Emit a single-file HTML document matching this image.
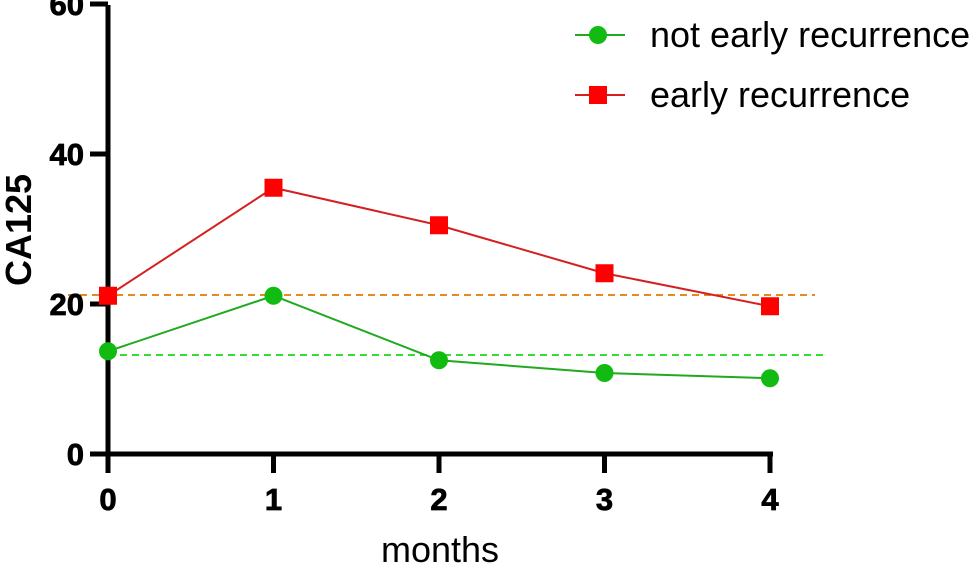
<!DOCTYPE html>
<html><head><meta charset="utf-8"><style>
body{margin:0;background:#fff}
svg{display:block;font-family:"Liberation Sans",Arial,sans-serif}
</style></head><body>
<svg id="c" width="975" height="568"></svg>
<script>
const months=[0,1,2,3,4];
const xTicks=["0","1","2","3","4"];
const yTicks=[0,20,40,60];
const notEarly=[13.7,21.1,12.5,10.8,10.1];
const early=[21.1,35.5,30.5,24.1,19.7];
const refEarly=21.2;
const refNotEarly=13.2;
const NS="http://www.w3.org/2000/svg";
const svg=document.getElementById('c');
const X=v=>108+v*165.5;
const Y=v=>454-v*7.5;
function mk(t,a,p){const e=document.createElementNS(NS,t);for(const k in a)e.setAttribute(k,a[k]);(p||svg).appendChild(e);return e;}
let r1=mk('line',{x1:68,x2:815,y1:Y(refEarly),y2:Y(refEarly),stroke:'#e58a1f','stroke-width':2,'stroke-dasharray':'7,5'});


let r2=mk('line',{x1:108,x2:825,y1:Y(refNotEarly),y2:Y(refNotEarly),stroke:'#33dd33','stroke-width':2,'stroke-dasharray':'7,5'});


let ya=mk('line',{x1:108,x2:108,y1:5,y2:456,stroke:'#000','stroke-width':5});


let xa=mk('line',{x1:90,x2:773,y1:454,y2:454,stroke:'#000','stroke-width':5});


yTicks.forEach(v=>{
  mk('line',{x1:90,x2:108,y1:Y(v),y2:Y(v),stroke:'#000','stroke-width':5});
  let t=mk('text',{x:84,y:Y(v)+11,'text-anchor':'end','font-size':31,'font-weight':'bold',stroke:'#000','stroke-width':0.8});
  t.textContent=v;
  
  
});
months.forEach((m,i)=>{
  mk('line',{x1:X(m),x2:X(m),y1:454,y2:473,stroke:'#000','stroke-width':5});
  let t=mk('text',{x:X(m),y:510,'text-anchor':'middle','font-size':31,'font-weight':'bold',stroke:'#000','stroke-width':0.8});
  t.textContent=xTicks[i];
  
  
});
let yt=mk('text',{x:0,y:0,'text-anchor':'middle','font-size':36,'font-weight':'bold',transform:'translate(31,230) rotate(-90)'});
yt.textContent='CA125';


let xt=mk('text',{x:440,y:562,'text-anchor':'middle','font-size':36});
xt.textContent='months';


function line(vals,color,name){
  let p=mk('polyline',{points:vals.map((v,i)=>X(months[i])+','+Y(v)).join(' '),fill:'none',stroke:color,'stroke-width':2});
  
  
}
line(notEarly,'#1faa1f','not-early');
line(early,'#d42020','early');
notEarly.forEach((v,i)=>{
  let c=mk('circle',{cx:X(months[i]),cy:Y(v),r:9,fill:'#11bb11'});
  
  
});
early.forEach((v,i)=>{
  let s=mk('rect',{x:X(months[i])-9,y:Y(v)-9,width:18,height:18,fill:'#ff0000'});
  
  
});
mk('line',{x1:575,x2:625,y1:35,y2:35,stroke:'#1faa1f','stroke-width':2});
mk('circle',{cx:598,cy:35,r:9,fill:'#11bb11'});
let l1=mk('text',{x:650,y:47,'font-size':36});
l1.textContent='not early recurrence';


mk('line',{x1:575,x2:625,y1:95,y2:95,stroke:'#d42020','stroke-width':2});
mk('rect',{x:589,y:86,width:18,height:18,fill:'#ff0000'});
let l2=mk('text',{x:650,y:107,'font-size':36});
l2.textContent='early recurrence';


</script>
</body></html>
